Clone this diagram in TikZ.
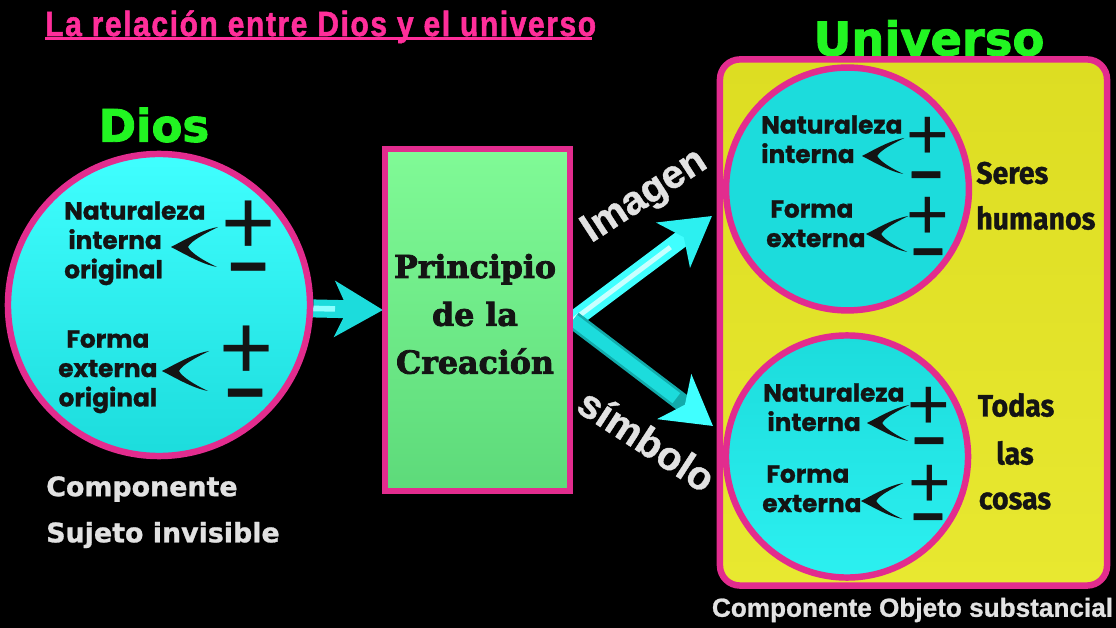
\documentclass[tikz,border=0pt]{standalone}
\usepackage{fontspec}
\usetikzlibrary{arrows.meta,backgrounds}
\newfontfamily\fontetiq{Poppins}[UprightFont={* Bold},FakeBold=1]
\newfontfamily\fontseres{Fira Sans}[UprightFont={* Bold},FakeStretch=0.92,FakeBold=1]
\newfontfamily\fontserif{DejaVu Serif}[UprightFont={* Bold},FakeBold=2.5]
\newfontfamily\fontdeja{DejaVu Sans}[UprightFont={* Bold},FakeBold=2]
\newfontfamily\fontgris{DejaVu Sans}[UprightFont={* Bold},FakeBold=1]
\newfontfamily\fontlib{Liberation Sans}
\newfontfamily\fontlibb{Liberation Sans}[UprightFont={* Bold},FakeBold=1]
\newfontfamily\fonttit{Liberation Sans}[UprightFont={* Bold},FakeStretch=0.855,LetterSpace=4.6,FakeBold=1.5]
\definecolor{rosa}{HTML}{E22C8E}
\definecolor{titrosa}{HTML}{FF2E9A}
\definecolor{verdetit}{HTML}{22F522}
\definecolor{gris}{HTML}{E2E2E2}
\definecolor{cianalto}{HTML}{40FFFF}
\definecolor{cianbajo}{HTML}{1CDCDC}
\definecolor{cianclaro}{HTML}{2CF0F0}
\definecolor{cianoscuro}{HTML}{12ABAB}
\definecolor{cianpalido}{HTML}{C8FFFF}
\definecolor{verdealto}{HTML}{80FA96}
\definecolor{verdebajo}{HTML}{5DDA7A}
\definecolor{amaralto}{HTML}{DDDD22}
\definecolor{amarbajo}{HTML}{E8E830}
\definecolor{negro}{HTML}{141414}
\tikzset{
  borde/.style={draw=rosa, line width=4.6pt},
  esfera/.style={borde, circle, inner sep=0pt},
  etiq/.style={text=negro, inner sep=0pt, anchor=north west, align=left, font=\fontetiq\fontsize{17.6}{20.9}\selectfont},
  seres/.style={text=negro, inner sep=0pt, font=\fontseres\fontsize{22}{22}\selectfont},
  mas/.style={text=negro, inner sep=0pt, font=\fontlib\fontsize{66}{66}\selectfont},
  menos/.style={text=negro, inner sep=0pt, font=\fontlibb\fontsize{48}{48}\selectfont},
  masch/.style={mas, font=\fontlib\fontsize{52}{52}\selectfont},
  menosch/.style={menos, font=\fontlibb\fontsize{40}{40}\selectfont},
  gristxt/.style={text=gris, inner sep=0pt, font=\fontlibb\fontsize{28.5}{29}\selectfont},
  punta/.style={-{Stealth[length=1.2cm,width=1.38cm,inset=.32cm,color=#1]}},
  pics/rama/.style={code={
    \fill[negro] (0,0) .. controls (12,-6) and (30,-17) .. (47,-20)
      .. controls (33,-13) and (20,-6) .. (17,0)
      .. controls (20,6) and (33,14) .. (46,20)
      .. controls (30,17) and (12,6) .. (0,0) -- cycle;
  }}
}

\begin{document}
\begin{tikzpicture}[x=0.025cm,y=-0.025cm]
  \useasboundingbox (0,0) rectangle (1116,628);
  \node[text=titrosa, inner sep=0pt, anchor=base west, font=\fonttit\fontsize{24.9}{25}\selectfont] (titulo) at (45,36) {La relación entre Dios y el universo};
  \coordinate (subi) at (45,38.5);
  \coordinate (subf) at (592,38.5);
  \draw[titrosa, line width=1.9pt] (subi) -- (subf);

  \node[text=verdetit, inner sep=0pt, font=\fontdeja\fontsize{32}{32}\selectfont] (diostit) at (154,125) {Dios};
  \node[text=verdetit, inner sep=0pt, font=\fontdeja\fontsize{33}{33}\selectfont] (univtit) at (929,38) {Universo};

  \node[esfera, top color=cianalto, bottom color=cianbajo, minimum size=7.55cm] (dios) at (159,305) {};
  \node[borde, top color=verdealto, bottom color=verdebajo, minimum width=4.625cm, minimum height=8.55cm] (principio) at (477.5,320) {};
  \node[borde, rounded corners=0.5cm, top color=amaralto, bottom color=amarbajo, minimum width=9.675cm, minimum height=13.15cm] (universo) at (913.5,322.5) {};
  \node[esfera, fill=cianbajo, minimum size=6.07cm] (hombre) at (847.5,189) {};
  \node[esfera, top color=cianbajo, bottom color=cianclaro, minimum size=6.05cm] (cosas) at (847,456.5) {};

  \node[etiq] (natdios) at (64,201) {Naturaleza\\\,interna\\original};
  \node[etiq, align=center] (fordios) at (58,330) {Forma\\externa\\original};
  \node[etiq] (nathom) at (761,115) {Naturaleza\\interna};
  \node[etiq] (forhom) at (766,200) {\,Forma\\externa};
  \node[etiq] (natcos) at (763,383) {Naturaleza\\\,interna};
  \node[etiq] (forcos) at (762,465) {\,Forma\\externa};

  \pic at (171,247) {rama};
  \pic at (162,371) {rama};
  \pic[scale=.9] at (862,156) {rama};
  \pic[scale=.9] at (866,234) {rama};
  \pic[scale=.9] at (867,423) {rama};
  \pic[scale=.9] at (861,501) {rama};

  \node[mas] (masa) at (249,228) {+};
  \node[menos] (menosa) at (248,276) {\char"2212};
  \node[mas] (masb) at (247,353) {+};
  \node[menos] (menosb) at (245,402) {\char"2212};
  \node[masch] (masc) at (928,138.5) {+};
  \node[menosch] (menosc) at (926,182.5) {\char"2212};
  \node[masch] (masd) at (928,218.5) {+};
  \node[menosch] (menosd) at (928,259.5) {\char"2212};
  \node[masch] (mase) at (929,408.5) {+};
  \node[menosch] (menose) at (929,448.5) {\char"2212};
  \node[masch] (masf) at (930,486.5) {+};
  \node[menosch] (menosf) at (928,524.5) {\char"2212};

  \node[inner sep=0pt, text=negro, align=center, font=\fontserif\fontsize{22.5}{34}\selectfont] (textoprin) at (475,314) {Principio\\de la\\Creación};

  \node[seres, anchor=west] (ser) at (976,173) {Seres};
  \node[seres, anchor=west] (hum) at (976,218) {humanos};
  \node[seres] (tod) at (1016,405) {Todas};
  \node[seres] (las) at (1015,453) {las};
  \node[seres] (cos) at (1015,501) {cosas};

  \node[text=gris, inner sep=0pt, anchor=west, font=\fontgris\fontsize{19.1}{19}\selectfont] (comp) at (46,489) {Componente};
  \node[text=gris, inner sep=0pt, anchor=west, font=\fontgris\fontsize{19.1}{19}\selectfont] (suj) at (46,535) {Sujeto invisible};
  \node[text=gris, inner sep=0pt, font=\fontlibb\fontsize{18.6}{19}\selectfont] (obj) at (912.5,610) {Componente Objeto substancial};

  \node[gristxt, rotate=33] (imagen) at (645,197) {Imagen};
  \node[gristxt, rotate=-33] (simbolo) at (647,440) {símbolo};

  \coordinate (entrada) at (383,310);
  \coordinate (puntaimg) at (712,216);
  \coordinate (puntasim) at (713,426);

  \begin{pgfonlayer}{background}
    \fill[black] (0,0) rectangle (1116,628);
    \draw[punta=cianbajo, cianbajo, line width=12.8pt] (dios) -- (entrada);
    \draw[cianalto!60!white, line width=4pt, shorten >=1.2cm] (dios) -- (entrada);
    \draw[punta=cianclaro, cianalto, line width=12.4pt] (principio.east) -- (puntaimg);
    \draw[cianpalido, line width=3.5pt, shorten >=1.3cm] (principio.east) -- (puntaimg);
    \draw[punta=cianalto, cianoscuro, line width=12.8pt] (principio.east) -- (puntasim);
    \draw[cianbajo, line width=9pt, shorten >=1.15cm] (principio.east) -- (puntasim);
  \end{pgfonlayer}
\end{tikzpicture}
\end{document}
